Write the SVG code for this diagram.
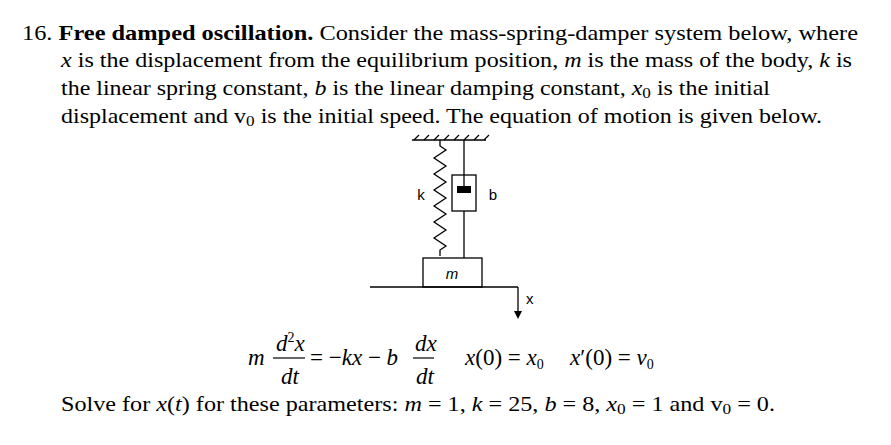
<svg xmlns="http://www.w3.org/2000/svg" width="891" height="445" viewBox="0 0 891 445">
<style>
.t{font-family:'Liberation Serif','Times New Roman',Times,serif;font-size:21px;fill:#000}
.s{font-family:'Liberation Sans',Arial,sans-serif;font-size:15px;fill:#000}
.l{stroke:#000;stroke-width:1.3;fill:none}
.e{font-family:'Liberation Serif','Times New Roman',Times,serif;font-size:23px;fill:#000}
.i{font-style:italic}
.sub{font-size:15px}
</style>
<rect width="891" height="445" fill="#fff"/>
<g id="text">
<text class="t" x="22" y="40" textLength="836" lengthAdjust="spacingAndGlyphs">16. <tspan font-weight="bold">Free damped oscillation.</tspan> Consider the mass-spring-damper system below, where</text>
<text class="t" x="61" y="67" textLength="791" lengthAdjust="spacingAndGlyphs"><tspan class="i">x</tspan> is the displacement from the equilibrium position, <tspan class="i">m</tspan> is the mass of the body, <tspan class="i">k</tspan> is</text>
<text class="t" x="61" y="95" textLength="709" lengthAdjust="spacingAndGlyphs">the linear spring constant, <tspan class="i">b</tspan> is the linear damping constant, <tspan class="i">x</tspan><tspan class="sub" dy="3">0</tspan><tspan dy="-3"> is the initial</tspan></text>
<text class="t" x="61" y="123" textLength="761" lengthAdjust="spacingAndGlyphs">displacement and v<tspan class="sub" dy="3">0</tspan><tspan dy="-3"> is the initial speed. The equation of motion is given below.</tspan></text>
<text class="t" x="61" y="411" textLength="714" lengthAdjust="spacingAndGlyphs">Solve for <tspan class="i">x</tspan>(<tspan class="i">t</tspan>) for these parameters: <tspan class="i">m</tspan> = 1, <tspan class="i">k</tspan> = 25, <tspan class="i">b</tspan> = 8, <tspan class="i">x</tspan><tspan class="sub" dy="3">0</tspan><tspan dy="-3"> = 1 and v</tspan><tspan class="sub" dy="3">0</tspan><tspan dy="-3"> = 0.</tspan></text>
</g>
<g id="ceiling">
<line class="l" x1="412" y1="140" x2="486" y2="140"/>
<path class="l" d="M414,140 l5,-5 M424,140 l5,-5 M434,140 l5,-5 M444,140 l5,-5 M454,140 l5,-5 M464,140 l5,-5 M474,140 l5,-5 M484,140 l5,-5"/>
</g>
<g id="spring">
<path class="l" stroke-width="1" d="M440,140 v6 l6,4 l-12,8 l12,8 l-12,8 l12,8 l-12,8 l12,8 l-12,8 l12,8 l-12,8 l12,8 l-12,8 l12,8 l-6,4 v6"/>
<text class="s" x="421" y="200" text-anchor="middle">k</text>
</g>
<g id="damper">
<line class="l" x1="464" y1="140" x2="464" y2="189"/>
<rect class="l" x="452" y="175" width="24" height="36"/>
<rect x="457" y="186" width="14" height="7" fill="#000"/>
<line class="l" x1="464" y1="211" x2="464" y2="258"/>
<text class="s" x="493" y="200" text-anchor="middle">b</text>
</g>
<g id="mass">
<rect class="l" x="423" y="258" width="59" height="29"/>
<text class="s" x="452" y="279" text-anchor="middle" font-style="italic">m</text>
</g>
<g id="connectors">
<line class="l" x1="518" y1="287" x2="518" y2="312"/>
<line class="l" x1="370" y1="287" x2="518" y2="287"/>
<path d="M514,311 L522,311 L518,319 Z" fill="#000"/>
<text class="s" x="526" y="304">x</text>
</g>
<g id="equation">
<text class="e i" x="248" y="365">m</text>
<text class="e i" x="276" y="351">d<tspan font-size="14" dy="-9" font-style="normal">2</tspan><tspan dy="9">x</tspan></text>
<line x1="273" y1="358" x2="305" y2="358" stroke="#000" stroke-width="1.2"/>
<text class="e i" x="281" y="384">dt</text>
<text class="e" x="310" y="365">= −<tspan class="i">kx</tspan> − <tspan class="i">b</tspan></text>
<text class="e i" x="415" y="351">dx</text>
<line x1="413" y1="358" x2="434" y2="358" stroke="#000" stroke-width="1.2"/>
<text class="e i" x="416" y="384">dt</text>
<text class="e" x="465" y="365"><tspan class="i">x</tspan>(0) = <tspan class="i">x</tspan><tspan font-size="14" dy="4">0</tspan></text>
<text class="e" x="570" y="365"><tspan class="i">x</tspan>′(0) = <tspan class="i">v</tspan><tspan font-size="14" dy="4">0</tspan></text>
</g>
</svg>
